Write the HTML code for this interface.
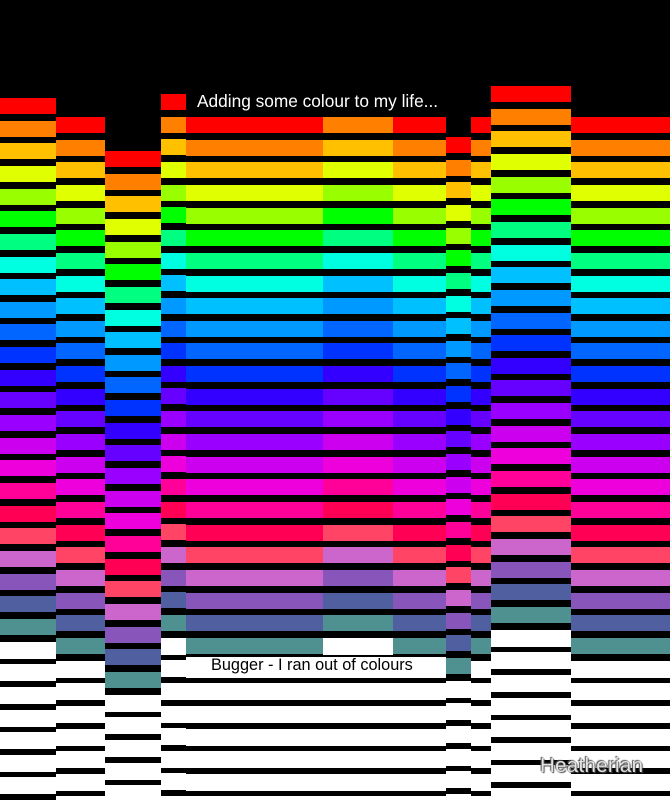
<!DOCTYPE html>
<html><head><meta charset="utf-8"><style>
html,body{margin:0;padding:0;background:#000;}
#c{position:relative;width:670px;height:800px;overflow:hidden;background:#000;}
.s{position:absolute;z-index:1;}
.t{position:absolute;font-family:"Liberation Sans",sans-serif;white-space:nowrap;z-index:10;}
</style></head><body><div id="c">
<div class="t" style="left:197px;top:91px;font-size:17.3px;color:#fff;">Adding some colour to my life...</div>
<div style="position:absolute;left:186px;top:657px;width:260px;height:19px;background:#fff;z-index:5;"></div>
<div class="t" style="left:211px;top:657px;font-size:16.3px;line-height:17px;color:#000;">Bugger - I ran out of colours</div>
<div class="t" style="left:540px;top:754px;font-size:20.5px;letter-spacing:0.3px;color:#e4e4e4;text-shadow:0 0 1px #333,1px 1px 1px #555,-1px -1px 1px #555;">Heatherian</div>
</div>
<script>
var cols=["#ff0000","#ff8000","#ffc000","#e0ff00","#99ff00","#00ff00","#00ff80","#00ffe0","#00c0ff","#0099ff","#0066ff","#0033ff","#3300ff","#6600ff","#9900ff","#cc00ee","#ee00dd","#ff0099","#ff0055","#ff4466","#cc66cc","#8855bb","#4f5f9f","#4f9090"];
var C=[[0,56,98,0],[56,105,117,0],[105,161,151,0],[161,186,94,0],[186,323,117,0],[323,393,117,1],[393,446,117,0],[446,471,137,0],[471,491,117,0],[491,571,86,0],[571,670,117,0]];
var p=22.65,h=16.3,root=document.getElementById('c');
C.forEach(function(c){
  var y=c[2],i=c[3];
  while(y<800){
    var d=document.createElement('div');d.className='s';
    d.style.left=c[0]+'px';d.style.width=(c[1]-c[0])+'px';
    var col=i<cols.length?cols[i]:'#fff';
    var hh=i<cols.length?h:17;
    d.style.top=Math.round(y)+'px';d.style.height=Math.round(hh)+'px';d.style.background=col;
    root.appendChild(d);
    y+=p;i++;
  }
});
</script>
</body></html>
